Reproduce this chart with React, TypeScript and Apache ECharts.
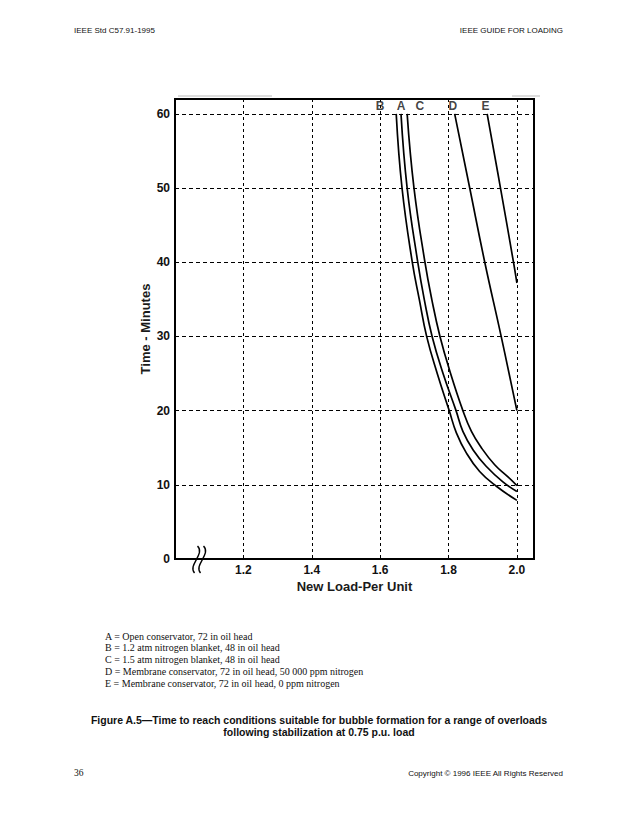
import React, { useEffect, useRef } from "react";
import * as echarts from "echarts";

// ---- data ----
const loadA = [1.661, 1.679, 1.71, 1.729, 1.752, 1.784, 1.822, 1.842, 1.872, 1.91, 1.959, 2.0];
const timeA = [60, 50, 40, 35, 30, 25, 20, 17.2, 14.7, 12.5, 10.4, 9.1];
const loadB = [1.647, 1.664, 1.694, 1.7145, 1.736, 1.767, 1.802, 1.823, 1.852, 1.891, 1.94, 2.0];
const timeB = [60, 50, 40, 35, 30, 25, 20, 17.0, 14.3, 11.8, 9.8, 7.9];
const loadC = [1.679, 1.699, 1.731, 1.751, 1.775, 1.806, 1.842, 1.867, 1.896, 1.935, 1.973, 2.0];
const timeC = [60, 50, 40, 35, 30, 25, 20, 17.2, 15.0, 12.7, 11.1, 9.9];
const loadD = [1.818, 1.862, 1.906, 1.954, 2.0];
const timeD = [60, 50, 40, 30, 20];
const loadE = [1.913, 1.952, 1.99, 2.0];
const timeE = [60, 50, 40, 37.2];

const curveNames = ["B", "A", "C", "D", "E"];
const curveLabelX = [1.6, 1.661, 1.716, 1.8125, 1.908];
const curveLabelY = [61.0, 61.0, 61.0, 61.0, 61.0];

const xTickLabels = ["1.2", "1.4", "1.6", "1.8", "2.0"];

const legendLines = [
  "A = Open conservator, 72 in oil head",
  "B = 1.2 atm nitrogen blanket, 48 in oil head",
  "C = 1.5 atm nitrogen blanket, 48 in oil head",
  "D = Membrane conservator, 72 in oil head, 50 000 ppm nitrogen",
  "E = Membrane conservator, 72 in oil head, 0 ppm nitrogen",
];
const captionLines = [
  "Figure A.5\u2014Time to reach conditions suitable for bubble formation for a range of overloads",
  "following stabilization at 0.75 p.u. load",
];

const SANS = "'Liberation Sans', Arial, Helvetica, sans-serif";
const SERIF = "'Liberation Serif', 'Times New Roman', serif";

const pairs = (xs: number[], ys: number[]) => xs.map((x, i) => [x, ys[i]]);

export default function App() {
  const ref = useRef<HTMLDivElement>(null);
  useEffect(() => {
    if (!ref.current) return;
    const chart = echarts.init(ref.current, undefined, { renderer: "svg" });
    const lineStyle = { color: "#000", width: 1.7 };
    const mkSeries = (name: string, xs: number[], ys: number[]) => ({
      name,
      type: "line",
      data: pairs(xs, ys),
      smooth: 0.45,
      symbol: "none",
      lineStyle,
      silent: true,
    });
    const option: any = {
      animation: false,
      backgroundColor: "#fff",
      grid: {
        left: 175,
        right: 104,
        top: 99,
        bottom: 266,
        show: true,
        borderColor: "#000",
        borderWidth: 2,
      },
      xAxis: {
        type: "value",
        min: 1.0,
        max: 2.05,
        interval: 0.2,
        name: "New Load-Per Unit",
        nameLocation: "middle",
        nameGap: 21,
        nameMoveOverlap: false,
        nameTextStyle: { fontFamily: SANS, fontSize: 13, fontWeight: "bold", color: "#1a1a1a" },
        axisLine: { show: true, lineStyle: { color: "#000", width: 2 } },
        axisTick: { show: false },
        axisLabel: {
          margin: 5,
          fontFamily: SANS,
          fontSize: 12,
          fontWeight: "bold",
          color: "#111",
          formatter: (v: number) => {
            const s = v.toFixed(1);
            return xTickLabels.indexOf(s) >= 0 && v < 2.01 ? s : "";
          },
        },
        splitLine: { show: true, lineStyle: { color: "#000", width: 1, type: [3, 3] } },
      },
      yAxis: {
        type: "value",
        min: 0,
        max: 62,
        interval: 10,
        name: "Time - Minutes",
        nameLocation: "middle",
        nameGap: 23,
        nameMoveOverlap: false,
        nameRotate: 90,
        nameTextStyle: { fontFamily: SANS, fontSize: 13, fontWeight: "bold", color: "#1a1a1a" },
        axisLine: { show: true, lineStyle: { color: "#000", width: 2 } },
        axisTick: { show: false },
        axisLabel: {
          margin: 5,
          fontFamily: SANS,
          fontSize: 12,
          fontWeight: "bold",
          color: "#111",
          formatter: (v: number) => (v % 10 === 0 ? String(v) : ""),
        },
        splitLine: { show: true, lineStyle: { color: "#000", width: 1, type: [4, 3] } },
      },
      series: [
        mkSeries("A", loadA, timeA),
        mkSeries("B", loadB, timeB),
        mkSeries("C", loadC, timeC),
        mkSeries("D", loadD, timeD),
        mkSeries("E", loadE, timeE),
        {
          name: "labels",
          type: "scatter",
          symbolSize: 0,
          silent: true,
          data: curveNames.map((n, i) => ({ value: [curveLabelX[i], curveLabelY[i]], name: n })),
          label: {
            show: true,
            position: "inside",
            formatter: (p: any) => p.name,
            fontFamily: SANS,
            fontSize: 12,
            fontWeight: "bold",
            color: "#111",
          },
        },
      ],
    };
    chart.setOption(option);

    const p0 = chart.convertToPixel({ gridIndex: 0 }, [1.06, 0]) as number[];
    const breakCurve = (dx: number) => ({
      type: "bezierCurve",
      shape: {
        x1: p0[0] + dx + 2,
        y1: p0[1] - 13,
        cpx1: p0[0] + dx + 10,
        cpy1: p0[1] - 5,
        cpx2: p0[0] + dx - 8,
        cpy2: p0[1] + 6,
        x2: p0[0] + dx - 1,
        y2: p0[1] + 14,
      },
      style: { stroke: "#000", lineWidth: 1.4, fill: null },
      silent: true,
    });

    const txt = (text: string, x: number, y: number, font: any, align = "left") => ({
      type: "text",
      x,
      y,
      silent: true,
      style: {
        text,
        fill: "#111",
        textAlign: align,
        textVerticalAlign: "middle",
        ...font,
      },
    });

    const graphics: any[] = [
      breakCurve(0),
      breakCurve(6),
      txt("IEEE Std C57.91-1995", 74, 30, { fontFamily: SANS, fontSize: 8 }),
      txt("IEEE GUIDE FOR LOADING", 563, 30, { fontFamily: SANS, fontSize: 8 }, "right"),
      ...legendLines.map((l, i) =>
        txt(l, 105, 636 + i * 11.8, { fontFamily: SERIF, fontSize: 10 })
      ),
      ...captionLines.map((l, i) =>
        txt(l, 319, 720 + i * 12, { fontFamily: SANS, fontSize: 10.5, fontWeight: "bold" }, "center")
      ),
      txt("36", 74, 773, { fontFamily: SERIF, fontSize: 9.5 }),
      txt("Copyright \u00a9 1996 IEEE All Rights Reserved", 563, 773, { fontFamily: SANS, fontSize: 8 }, "right"),
      {
        type: "line",
        silent: true,
        shape: { x1: 178, y1: 96, x2: 272, y2: 96 },
        style: { stroke: "#bbb", lineWidth: 1 },
      },
      {
        type: "line",
        silent: true,
        shape: { x1: 512, y1: 96, x2: 540, y2: 96 },
        style: { stroke: "#bbb", lineWidth: 1 },
      },
    ];
    chart.setOption({ graphic: { elements: graphics } });

    return () => chart.dispose();
  }, []);
  return (
    <div
      ref={ref}
      style={{ position: "absolute", left: 0, top: 0, width: 638, height: 825, background: "#fff" }}
    />
  );
}
